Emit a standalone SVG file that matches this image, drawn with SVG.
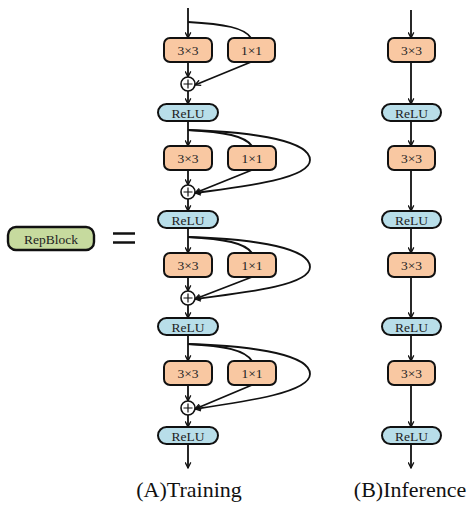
<svg xmlns="http://www.w3.org/2000/svg" width="474" height="506" viewBox="0 0 474 506">
<style>
.conv{fill:#f9c8a2;stroke:#111;stroke-width:2}
.relu{fill:#b8dee9;stroke:#111;stroke-width:2}
.rep{fill:#c6da9e;stroke:#111;stroke-width:2.4}
.add{fill:#fff;stroke:#111;stroke-width:1.6}
.t{font-family:"Liberation Serif","Times New Roman",serif;font-size:13.5px;fill:#222;text-anchor:middle}
.lbl{font-family:"Liberation Serif","Times New Roman",serif;font-size:22px;fill:#111;text-anchor:middle}
.ln{fill:none;stroke:#111;stroke-width:1.8}
.arr{marker-end:url(#ah)}
</style>
<defs>
<marker id="ah" viewBox="0 0 10 10" refX="9" refY="5" markerWidth="7" markerHeight="7" orient="auto" markerUnits="userSpaceOnUse">
<path d="M1,1 L9,5 L1,9" fill="none" stroke="#111" stroke-width="1.8"/>
</marker>
</defs>

<g id="connectors">
<line class="ln arr" x1="188" y1="8" x2="188" y2="38"/>
<line class="ln arr" x1="188" y1="62" x2="188" y2="77"/>
<line class="ln arr" x1="188" y1="91" x2="188" y2="104"/>
<line class="ln arr" x1="188" y1="121" x2="188" y2="146"/>
<line class="ln arr" x1="188" y1="170" x2="188" y2="185"/>
<line class="ln arr" x1="188" y1="199" x2="188" y2="211"/>
<line class="ln arr" x1="188" y1="228" x2="188" y2="253"/>
<line class="ln arr" x1="188" y1="277" x2="188" y2="291"/>
<line class="ln arr" x1="188" y1="305" x2="188" y2="318"/>
<line class="ln arr" x1="188" y1="335" x2="188" y2="361"/>
<line class="ln arr" x1="188" y1="385" x2="188" y2="401"/>
<line class="ln arr" x1="188" y1="415" x2="188" y2="427"/>
<line class="ln arr" x1="188" y1="444" x2="188" y2="468"/>
<path class="ln" d="M188,22 C225,24 245,28 251,38"/>
<path class="ln arr" d="M251,62 L195,85"/>
<path class="ln" d="M188,130 C225,132 245,136 252,146"/>
<path class="ln arr" d="M252,170 L195,193"/>
<path class="ln arr" d="M188,130 C260,132 310,142 310,160 C310,178 250,186 195,193"/>
<path class="ln" d="M188,237 C225,239 245,243 252,253"/>
<path class="ln arr" d="M252,277 L195,299"/>
<path class="ln arr" d="M188,237 C260,239 310,249 310,267 C310,285 250,292 195,299"/>
<path class="ln" d="M188,344 C225,346 245,350 252,361"/>
<path class="ln arr" d="M252,385 L195,409"/>
<path class="ln arr" d="M188,344 C260,346 310,356 310,374 C310,392 250,401 195,409"/>
<line class="ln arr" x1="411" y1="10" x2="411" y2="38"/>
<line class="ln arr" x1="411" y1="62" x2="411" y2="104"/>
<line class="ln arr" x1="411" y1="121" x2="411" y2="146"/>
<line class="ln arr" x1="411" y1="170" x2="411" y2="211"/>
<line class="ln arr" x1="411" y1="228" x2="411" y2="253"/>
<line class="ln arr" x1="411" y1="277" x2="411" y2="318"/>
<line class="ln arr" x1="411" y1="335" x2="411" y2="361"/>
<line class="ln arr" x1="411" y1="385" x2="411" y2="427"/>
<line class="ln arr" x1="411" y1="444" x2="411" y2="468"/>
</g>

<g id="repblock"><rect class="rep" x="8" y="227" width="86" height="23" rx="8"/><text class="t" x="51" y="243.5">RepBlock</text></g>
<g id="equals"><line x1="113" y1="233.5" x2="135" y2="233.5" stroke="#111" stroke-width="2.5"/><line x1="113" y1="242.5" x2="135" y2="242.5" stroke="#111" stroke-width="2.5"/></g>

<g id="t1-3x3"><rect class="conv" x="164" y="38" width="48" height="24" rx="6"/><text class="t" x="188" y="55">3×3</text></g>
<g id="t1-1x1"><rect class="conv" x="228" y="38" width="47" height="24" rx="6"/><text class="t" x="251.5" y="55">1×1</text></g>
<g id="t1-add"><circle class="add" cx="188" cy="84" r="7"/><path d="M183.5,84 H192.5 M188,79.5 V88.5" stroke="#111" stroke-width="1.2"/></g>
<g id="t1-relu"><rect class="relu" x="158" y="104" width="60" height="17" rx="8.5"/><text class="t" x="188" y="117.5">ReLU</text></g>
<g id="t2-3x3"><rect class="conv" x="164" y="146" width="48" height="24" rx="6"/><text class="t" x="188" y="163">3×3</text></g>
<g id="t2-1x1"><rect class="conv" x="228" y="146" width="48" height="24" rx="6"/><text class="t" x="252" y="163">1×1</text></g>
<g id="t2-add"><circle class="add" cx="188" cy="192" r="7"/><path d="M183.5,192 H192.5 M188,187.5 V196.5" stroke="#111" stroke-width="1.2"/></g>
<g id="t2-relu"><rect class="relu" x="158" y="211" width="60" height="17" rx="8.5"/><text class="t" x="188" y="224.5">ReLU</text></g>
<g id="t3-3x3"><rect class="conv" x="164" y="253" width="48" height="24" rx="6"/><text class="t" x="188" y="270">3×3</text></g>
<g id="t3-1x1"><rect class="conv" x="228" y="253" width="48" height="24" rx="6"/><text class="t" x="252" y="270">1×1</text></g>
<g id="t3-add"><circle class="add" cx="188" cy="298" r="7"/><path d="M183.5,298 H192.5 M188,293.5 V302.5" stroke="#111" stroke-width="1.2"/></g>
<g id="t3-relu"><rect class="relu" x="158" y="318" width="60" height="17" rx="8.5"/><text class="t" x="188" y="331.5">ReLU</text></g>
<g id="t4-3x3"><rect class="conv" x="164" y="361" width="48" height="24" rx="6"/><text class="t" x="188" y="378">3×3</text></g>
<g id="t4-1x1"><rect class="conv" x="228" y="361" width="48" height="24" rx="6"/><text class="t" x="252" y="378">1×1</text></g>
<g id="t4-add"><circle class="add" cx="188" cy="408" r="7"/><path d="M183.5,408 H192.5 M188,403.5 V412.5" stroke="#111" stroke-width="1.2"/></g>
<g id="t4-relu"><rect class="relu" x="158" y="427" width="60" height="17" rx="8.5"/><text class="t" x="188" y="440.5">ReLU</text></g>

<g id="i1-3x3"><rect class="conv" x="388" y="38" width="47" height="24" rx="6"/><text class="t" x="411.5" y="55">3×3</text></g>
<g id="i1-relu"><rect class="relu" x="382" y="104" width="59" height="17" rx="8.5"/><text class="t" x="411.5" y="117.5">ReLU</text></g>
<g id="i2-3x3"><rect class="conv" x="388" y="146" width="47" height="24" rx="6"/><text class="t" x="411.5" y="163">3×3</text></g>
<g id="i2-relu"><rect class="relu" x="382" y="211" width="59" height="17" rx="8.5"/><text class="t" x="411.5" y="224.5">ReLU</text></g>
<g id="i3-3x3"><rect class="conv" x="388" y="253" width="47" height="24" rx="6"/><text class="t" x="411.5" y="270">3×3</text></g>
<g id="i3-relu"><rect class="relu" x="382" y="318" width="59" height="17" rx="8.5"/><text class="t" x="411.5" y="331.5">ReLU</text></g>
<g id="i4-3x3"><rect class="conv" x="388" y="361" width="47" height="24" rx="6"/><text class="t" x="411.5" y="378">3×3</text></g>
<g id="i4-relu"><rect class="relu" x="382" y="427" width="59" height="17" rx="8.5"/><text class="t" x="411.5" y="440.5">ReLU</text></g>

<text class="lbl" x="189" y="497">(A)Training</text>
<text class="lbl" x="410" y="497">(B)Inference</text>
</svg>
